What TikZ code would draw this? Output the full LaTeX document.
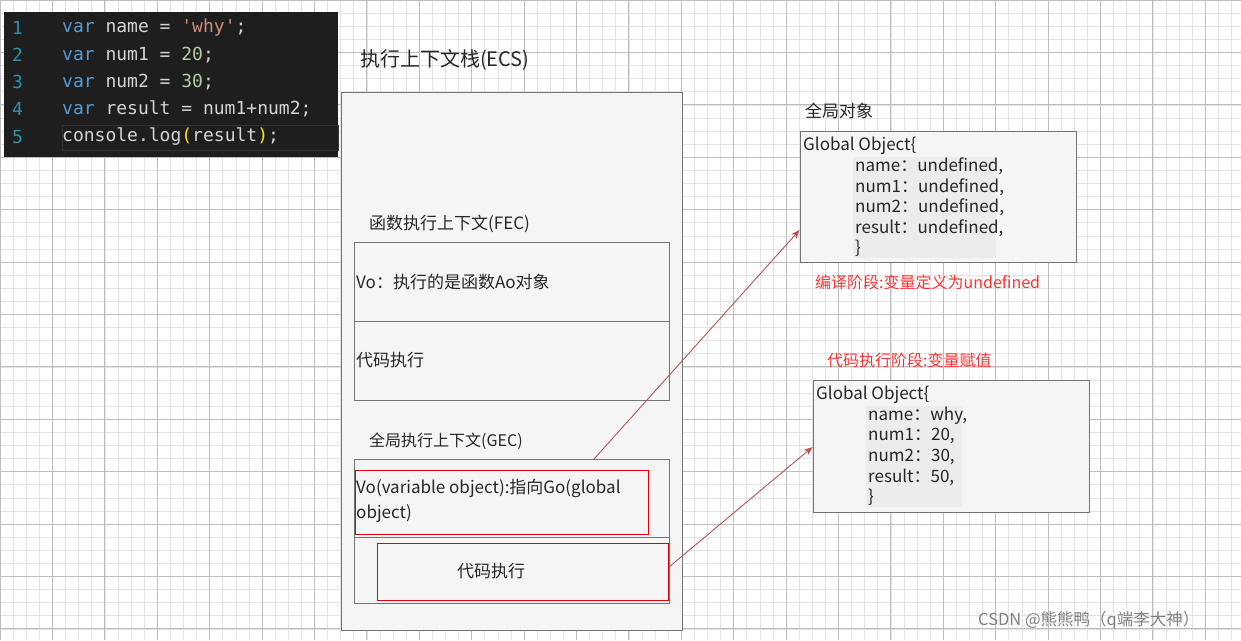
\documentclass[tikz,border=0pt]{standalone}
\usepackage{fontspec}
\setmainfont{Noto Sans CJK SC}
\newfontfamily\codefont{DejaVu Sans Mono}
\usetikzlibrary{arrows.meta}
\definecolor{gridminor}{HTML}{E3E3E3}
\definecolor{gridmajor}{HTML}{BDBDBD}
\definecolor{arr}{HTML}{B85450}
\definecolor{redt}{HTML}{FF3333}
\definecolor{kw}{HTML}{569CD6}
\definecolor{str}{HTML}{CE9178}
\definecolor{num}{HTML}{B5CEA8}
\definecolor{ctxt}{HTML}{D4D4D4}
\definecolor{lnum}{HTML}{2B91AF}
\definecolor{codebg}{HTML}{1E1E1E}
\tikzset{
  box/.style={draw=gray!90!black, fill=gray!8, line width=0.9pt},
  txt/.style={inner sep=0pt, anchor=west, font=\fontsize{17}{25}\selectfont, text=black!85},
  redbox/.style={draw=red!90!black, line width=1pt},
  link/.style={draw=arr, line width=0.9pt, -{Stealth[length=9pt,width=7pt]}},
  code/.style={inner sep=0pt, anchor=west, font=\codefont\fontsize{18}{20}\selectfont, text=ctxt},
}
\begin{document}
\begin{tikzpicture}[x=1pt,y=-1pt]
\useasboundingbox (0,0) rectangle (1241,640);
\fill[white] (0,0) rectangle (1241,640);
\draw[gridminor, line width=0.6pt] (0,0) grid[step=13.1pt] (1241,640);
\draw[gridmajor, line width=0.8pt] (0,0) grid[step=52.4pt] (1241,640);
% code
\fill[codebg] (4,12) rectangle (338,157);
\draw[gray!40!black] (62,125) rectangle (338,150);
\foreach \n/\y in {1/28,2/55,3/82,4/109,5/137}{\node[code, text=lnum] (ln\n) at (12,\y) {\n};}
\node[code] (c1) at (62,28) {\textcolor{kw}{var} name = \textcolor{str}{'why'};};
\node[code] (c2) at (62,55) {\textcolor{kw}{var} num1 = \textcolor{num}{20};};
\node[code] (c3) at (62,82) {\textcolor{kw}{var} num2 = \textcolor{num}{30};};
\node[code] (c4) at (62,109) {\textcolor{kw}{var} result = num1+num2;};
\node[code] (c5) at (62,137) {console.log\textcolor{yellow!90!orange}{(}result\textcolor{yellow!90!orange}{)};};
% ECS
\node[txt, font=\fontsize{20}{22}\selectfont] (ecst) at (360,60) {执行上下文栈(ECS)};
\draw[box] (341,92) rectangle (682,630);
\node[txt] (fect) at (369,224) {函数执行上下文(FEC)};
\draw[box] (354,242) rectangle (669,400);
\draw[gray!90!black, line width=0.9pt] (354,321) -- (669,321);
\node[txt] (fvo) at (356,282) {Vo：执行的是函数Ao对象};
\node[txt] (fcode) at (356,360) {代码执行};
\node[txt, font=\fontsize{16}{18}\selectfont] (gect) at (369,441) {全局执行上下文(GEC)};
\draw[box] (354,459) rectangle (669,603);
\draw[gray!90!black, line width=0.9pt] (354,537) -- (669,537);
\node[redbox, minimum width=293pt, minimum height=64pt, inner sep=0pt] (gvo) at (501.5,502) {};
\node[txt, align=left] (gvot) at (356,500.5) {Vo(variable object):指向Go(global\\object)};
\node[redbox, minimum width=291pt, minimum height=57pt, inner sep=0pt] (gcode) at (522.5,571.5) {};
\node[txt, anchor=center] (gcodet) at (491,571) {代码执行};
% global objects
\node[txt] (got) at (805,111) {全局对象};
\node[box, minimum width=276pt, minimum height=131pt, inner sep=0pt] (go1) at (938,196.5) {};
\node[txt] (go1h) at (803,146) {Global Object\{};
\fill[gray!15] (853,157) rectangle (996,258);
\node[txt] (go1a) at (855,166) {name：undefined,};
\node[txt] (go1b) at (855,187) {num1：undefined,};
\node[txt] (go1c) at (855,207) {num2：undefined,};
\node[txt] (go1d) at (855,228) {result：undefined,};
\node[txt] (go1e) at (855,248) {\}};
\node[txt, text=redt, font=\fontsize{16}{18}\selectfont] (r1) at (815,282) {编译阶段:变量定义为undefined};
\node[txt, text=redt, font=\fontsize{16}{18}\selectfont] (r2) at (827,360) {代码执行阶段:变量赋值};
\node[box, minimum width=276pt, minimum height=132pt, inner sep=0pt] (go2) at (951,446) {};
\node[txt] (go2h) at (816,395) {Global Object\{};
\fill[gray!15] (866,406) rectangle (962,507);
\node[txt] (go2a) at (868,416) {name：why,};
\node[txt] (go2b) at (868,436) {num1：20,};
\node[txt] (go2c) at (868,457) {num2：30,};
\node[txt] (go2d) at (868,477) {result：50,};
\node[txt] (go2e) at (868,497) {\}};
% arrows
\coordinate (a1s) at (594,459);
\coordinate (a2s) at (669,567);
\draw[link] (a1s) -- (go1.west |- 0,230);
\draw[link] (a2s) -- (go2.west |- 0,447);
\node[txt, text=gray, font=\fontsize{16.5}{18}\selectfont] (wm) at (978,620) {CSDN @熊熊鸭（q端李大神）};
\end{tikzpicture}
\end{document}
